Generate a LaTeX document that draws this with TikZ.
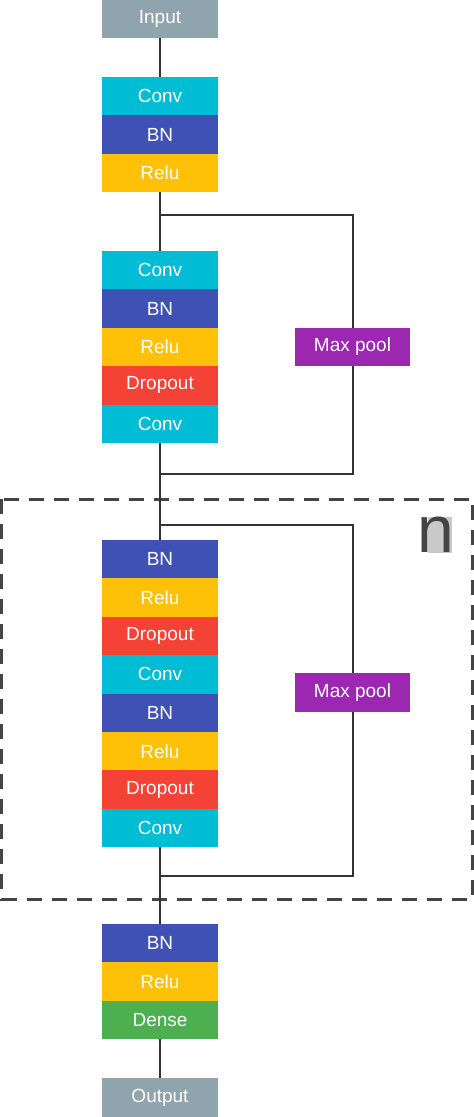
\documentclass[tikz,border=0pt]{standalone}
\usepackage{fontspec}
\setmainfont{Liberation Sans}
\usetikzlibrary{positioning}
\definecolor{convcyan}{HTML}{00BCD4}
\definecolor{bnindigo}{HTML}{3F51B5}
\definecolor{reluamber}{HTML}{FFC107}
\definecolor{dropred}{HTML}{F44336}
\definecolor{densegreen}{HTML}{4CAF50}
\definecolor{poolpurple}{HTML}{9C27B0}
\definecolor{iogrey}{HTML}{90A4AE}
\definecolor{wiregrey}{HTML}{333333}
\definecolor{boxgrey}{HTML}{444444}
\definecolor{nshade}{HTML}{C9C9C9}
\tikzset{
  layer/.style={minimum width=116pt, minimum height=38.4pt, inner sep=0pt, outer sep=0pt,
    text=white, font=\fontsize{19}{21}\selectfont},
  conv/.style={layer, fill=convcyan},
  bn/.style={layer, fill=bnindigo},
  relu/.style={layer, fill=reluamber},
  drop/.style={layer, fill=dropred},
  dense/.style={layer, fill=densegreen},
  iobox/.style={layer, fill=iogrey},
  pool/.style={layer, minimum width=115pt, fill=poolpurple},
  wire/.style={draw=wiregrey, line width=2pt},
}

\begin{document}
\begin{tikzpicture}[x=1pt,y=-1pt]
        \useasboundingbox (0,0) rectangle (474,1117);
        % repeated block
        \draw[boxgrey, line width=3pt, dash pattern=on 15pt off 10pt] (1.5,499) rectangle (472.5,899);
        \fill[nshade] (428,517) rectangle (452,553);
        \node[text=boxgrey, font=\fontsize{66}{66}\selectfont, inner sep=0pt] (reps) at (436,535) {n};

        \node[iobox] (input) at (160,19) {Input};

        \node[conv] (conva) at (160,96.2) {Conv};
        \node[bn, below=0pt of conva] (bna) {BN};
        \node[relu, below=0pt of bna] (relua) {Relu};

        \node[conv] (convb) at (160,270.2) {Conv};
        \node[bn, below=0pt of convb] (bnb) {BN};
        \node[relu, below=0pt of bnb] (relub) {Relu};
        \node[drop, below=0pt of relub] (dropb) {Dropout};
        \node[conv, below=0pt of dropb] (convc) {Conv};

        \node[bn] (bnc) at (160,559.2) {BN};
        \node[relu, below=0pt of bnc] (reluc) {Relu};
        \node[drop, below=0pt of reluc] (dropc) {Dropout};
        \node[conv, below=0pt of dropc] (convd) {Conv};
        \node[bn, below=0pt of convd] (bnd) {BN};
        \node[relu, below=0pt of bnd] (relud) {Relu};
        \node[drop, below=0pt of relud] (dropd) {Dropout};
        \node[conv, below=0pt of dropd] (conve) {Conv};

        \node[bn] (bne) at (160,943.2) {BN};
        \node[relu, below=0pt of bne] (relue) {Relu};
        \node[dense, below=0pt of relue] (densea) {Dense};

        \node[iobox] (output) at (160,1097.5) {Output};

        \node[pool] (poola) at (352.5,347) {Max pool};
        \node[pool] (poolb) at (352.5,692.5) {Max pool};

        % shortcuts
        \coordinate (splita) at (160,215);
        \coordinate (joina) at (160,473.5);
        \coordinate (splitb) at (160,525);
        \coordinate (joinb) at (160,876);

        \draw[wire] (input) -- (conva);
        \draw[wire] (relua) -- (convb);
        \draw[wire] (splita) -| (poola);
        \draw[wire] (poola) |- (joina);
        \draw[wire] (convc) -- (bnc);
        \draw[wire] (splitb) -| (poolb);
        \draw[wire] (poolb) |- (joinb);
        \draw[wire] (conve) -- (bne);
        \draw[wire] (densea) -- (output);
    \end{tikzpicture}
\end{document}
